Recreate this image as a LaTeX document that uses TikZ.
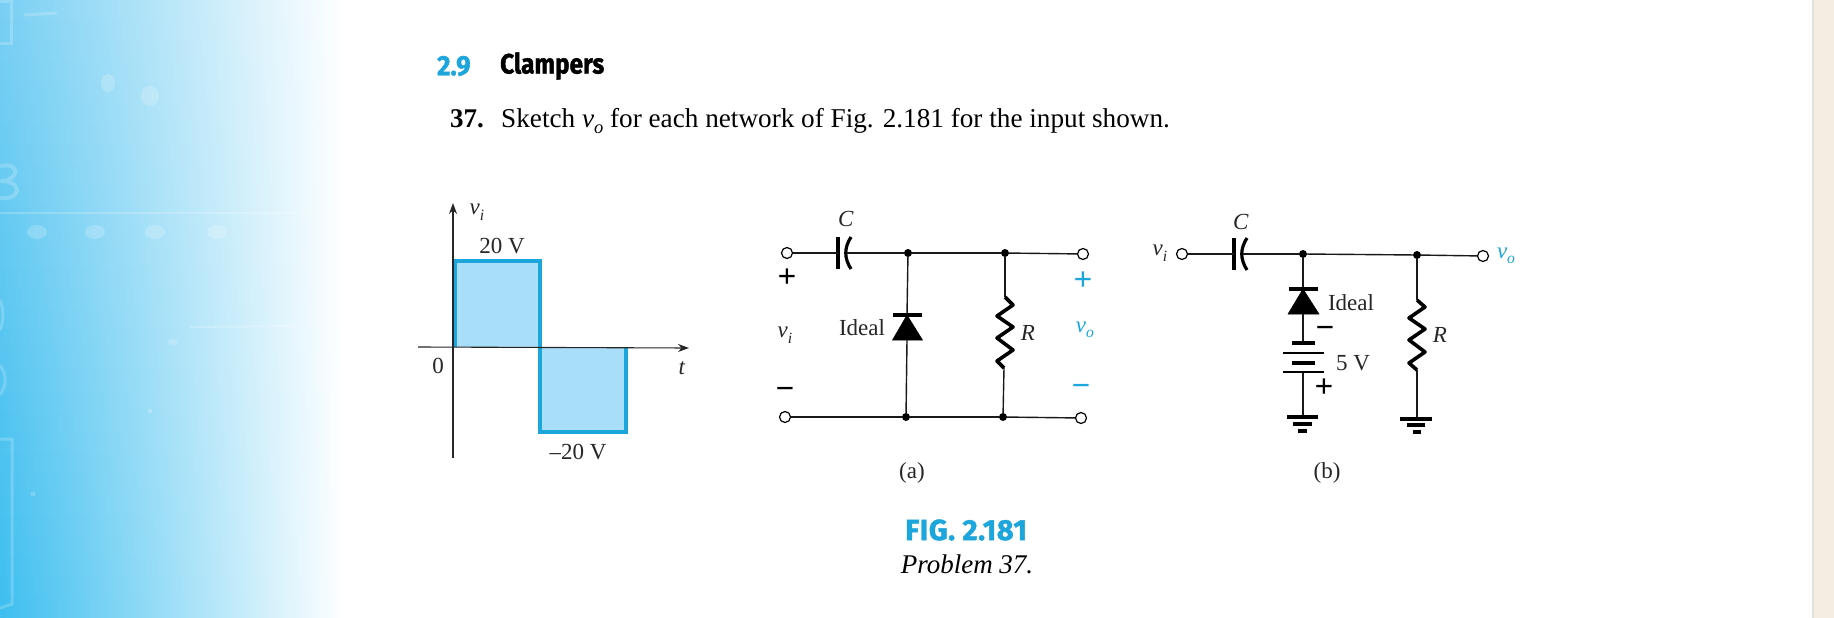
\documentclass[tikz,border=0pt]{standalone}
\usepackage{fontspec}
\setmainfont{Liberation Serif}
\newfontfamily\headfont{Fira Sans}[BoldFeatures={FakeBold=1.6}]
\usetikzlibrary{arrows.meta}
\definecolor{cyanink}{HTML}{1CA6DC}
\definecolor{wavefill}{HTML}{A9DEF9}
\definecolor{paper}{HTML}{F5EDE2}
\definecolor{topbg}{HTML}{78CFF3}
\definecolor{botbg}{HTML}{3CBEEF}
\newcommand{\vsub}[2]{\textit{#1}\raisebox{-.24em}{\scalebox{.68}{\textit{#2}}}}
\tikzset{
  lbl/.style={inner sep=0pt,font=\fontsize{23}{25}\selectfont,text=black!85},
  lblc/.style={lbl,text=cyanink},
  sgn/.style={inner sep=0pt,font=\fontsize{33}{33}\selectfont\bfseries,text=black},
  sgnc/.style={sgn,text=cyanink},
  term/.style={circle,draw=black,fill=white,line width=1.2pt,inner sep=0pt,minimum size=11pt},
  dotj/.style={circle,fill=black,inner sep=0pt,minimum size=8pt},
  wire/.style={line width=1.4pt,black!90},
  thickp/.style={line width=4.5pt,black},
  thinp/.style={line width=1.6pt,black},
  resi/.style={line width=3.6pt,black,line join=round},
  diod/.style={fill=black,draw=black,line width=.5pt},
  axisl/.style={line width=1.1pt,black!85},
  deco/.style={white,opacity=.2},
}
\begin{document}
\begin{tikzpicture}[x=1pt,y=-1pt]
\useasboundingbox (0,0) rectangle (1834,618);
\fill[white] (0,0) rectangle (1834,618);
% left gradient band
\foreach \i in {0,...,30}{
  \pgfmathtruncatemacro{\p}{100-\i*100/30}
  \pgfmathsetmacro{\ya}{\i*20.6}
  \pgfmathsetmacro{\yb}{\i*20.6+21.5}
  \shade[left color=topbg!\p!botbg,right color=white,shading angle=90] (0,\ya) rectangle (345,\yb);
}
% faint background art
\begin{scope}[deco]
\draw[line width=2.5pt] (0,213) -- (330,213);
\draw[line width=3pt] (0,2) -- (11,2) -- (11,44) -- (0,44);
\draw[line width=3pt] (24,15) -- (57,13);
\draw[line width=4pt] (0,166) .. controls (22,162) and (18,180) .. (3,181) .. controls (22,182) and (22,200) .. (0,198);
\foreach \x in {37,95,155,217}{\fill (\x,232) ellipse (10 and 7);}
\draw[line width=3pt] (0,439) -- (12,439) -- (12,604) -- (0,608);
\fill (108,83) ellipse (7 and 9);
\fill (150,96) ellipse (9 and 10);
\draw[line width=2pt] (190,327) -- (300,326);
\fill (173,342) ellipse (5 and 3);
\fill (150,411) circle (2.5);
\fill (33,494) circle (2.5);
\draw[line width=3pt] (0,300) .. controls (4,310) and (4,320) .. (0,330);
\draw[line width=3pt] (0,365) .. controls (7,375) and (7,385) .. (0,395);
\end{scope}
% right paper strip
\fill[paper] (1812,0) rectangle (1834,618);
\fill[black!12] (1812,0) rectangle (1813.5,618);
% heading
\node[anchor=west,inner sep=0pt,text=cyanink,font=\headfont\fontsize{28}{30}\selectfont\bfseries] (secn) at (437,66) {\scalebox{.92}[1]{2.9}};
\node[anchor=west,inner sep=0pt,text=black,font=\headfont\fontsize{28}{30}\selectfont\bfseries] (sect) at (500,66) {\scalebox{.87}[1]{Clampers}};
\node[anchor=base west,inner sep=0pt,font=\fontsize{27}{29}\selectfont\bfseries] (pnum) at (450,127) {37.};
\node[anchor=base west,inner sep=0pt,font=\fontsize{27.2}{29}\selectfont] (ptxt) at (501,127) {Sketch \vsub{v}{o} for each network of Fig. 2.181 for the input shown.};
% waveform
\coordinate (w0) at (455,347);
\coordinate (w1) at (455,261);
\coordinate (w2) at (540,261);
\coordinate (w3) at (540,432);
\coordinate (w4) at (626,432);
\coordinate (w5) at (626,347);
\fill[wavefill] (w0) -- (w1) -- (w2) -- (w3) -- (w4) -- (w5) -- (w2 |- w5) -- cycle;
\draw[cyanink,line width=3.4pt,line join=miter] (w0) -- (w1) -- (w2) -- (w3) -- (w4) -- (w5);
\coordinate (yb) at (453,458);
\coordinate (yt) at (453,203);
\coordinate (xl) at (418,347);
\coordinate (xr) at (689,348);
\draw[axisl,-{Stealth[length=11pt,width=8pt]}] (yb) -- (yt);
\draw[axisl,-{Stealth[length=11pt,width=8pt]}] (xl) -- (xr);
\node[lbl] (lvi) at (477,212) {\vsub{v}{i}};
\node[lbl] (l20) at (502,246) {20 V};
\node[lbl] (l0) at (438,366) {0};
\node[lbl] (lt) at (682,368) {\textit{t}};
\node[lbl] (lm20) at (578,452) {–20 V};
% circuit (a)
\node[term] (at1) at (787,253) {};
\node[term] (at2) at (1083,254) {};
\node[term] (ab1) at (785,417) {};
\node[term] (ab2) at (1081,418) {};
\node[dotj] (aj1) at (908,253) {};
\node[dotj] (aj2) at (1005,253) {};
\node[dotj] (aj3) at (906,417) {};
\node[dotj] (aj4) at (1003,417) {};
\coordinate (ac1) at (838,253);
\coordinate (ac2) at (847,253);
\draw[thickp] (838,237) -- (838,269);
\draw[line width=3.2pt,black] (851,237) .. controls (844,248) and (844,258) .. (851,269);
\draw[wire] (at1) -- (ac1);
\draw[wire] (ac2) -- (aj1);
\draw[wire] (aj1) -- (aj2);
\draw[wire] (aj2) -- (at2);
\draw[wire] (ab1) -- (aj3);
\draw[wire] (aj3) -- (aj4);
\draw[wire] (aj4) -- (ab2);
\coordinate (ada) at (907,315);
\coordinate (adk) at (907,340);
\draw[wire] (aj1) -- (ada);
\draw[wire] (adk) -- (aj3);
\draw[line width=4pt] (893,315) -- (922,315);
\draw[diod] (ada) -- (892.5,340) -- (922.5,340) -- cycle;
\coordinate (ar1) at (1005,297);
\coordinate (ar2) at (1004,368);
\draw[wire] (aj2) -- (ar1);
\draw[wire] (ar2) -- (aj4);
\draw[resi] (ar1) -- (1013,305) -- (997,316) -- (1013,327) -- (997,338) -- (1013,350) -- (997,361) -- (ar2);
\node[lbl] (aC) at (846,219) {\textit{C}};
\node[sgn] (ap) at (787,278) {+};
\node[sgn] (am) at (785,393) {−};
\node[lbl] (avi) at (785,335) {\vsub{v}{i}};
\node[lbl] (aid) at (862,328) {Ideal};
\node[lbl] (aR) at (1028,333) {\textit{R}};
\node[sgnc] (apo) at (1083,281) {+};
\node[lblc] (avo) at (1085,330) {\vsub{v}{o}};
\node[sgnc] (amo) at (1081,390) {−};
\node[lbl] (acapa) at (912,473) {(a)};
% circuit (b)
\node[term] (bt1) at (1182,254) {};
\node[term] (bt2) at (1483,256) {};
\node[dotj] (bj1) at (1303,254) {};
\node[dotj] (bj2) at (1417,255) {};
\coordinate (bc1) at (1234,254);
\coordinate (bc2) at (1243,254);
\draw[thickp] (1234,238) -- (1234,270);
\draw[line width=3.2pt,black] (1247,238) .. controls (1240,249) and (1240,259) .. (1247,270);
\draw[wire] (bt1) -- (bc1);
\draw[wire] (bc2) -- (bj1);
\draw[wire] (bj1) -- (bj2);
\draw[wire] (bj2) -- (bt2);
\coordinate (bda) at (1303,289);
\coordinate (bdk) at (1303,314);
\draw[wire] (bj1) -- (bda);
\draw[line width=4pt] (1289,289) -- (1318,289);
\draw[diod] (bda) -- (1288,314) -- (1319,314) -- cycle;
\coordinate (bb1) at (1303,343);
\coordinate (bb4) at (1303,372);
\coordinate (bg1) at (1303,417);
\draw[wire] (bdk) -- (bb1);
\draw[wire] (bb4) -- (bg1);
\draw[line width=4pt] (1292,343) -- (1315,343);
\draw[thinp] (1283,353) -- (1324,353);
\draw[line width=4pt] (1292,363) -- (1315,363);
\draw[thinp] (1283,372) -- (1324,372);
\draw[line width=3.5pt] (1287,417) -- (1318,417);
\draw[line width=3.5pt] (1293,424) -- (1312,424);
\draw[line width=3.5pt] (1298,431) -- (1307,431);
\coordinate (br1) at (1417,300);
\coordinate (br2) at (1417,370);
\coordinate (bg2) at (1417,419);
\draw[wire] (bj2) -- (br1);
\draw[wire] (br2) -- (bg2);
\draw[resi] (br1) -- (1425,307) -- (1409,318) -- (1425,329) -- (1409,340) -- (1425,352) -- (1409,363) -- (br2);
\draw[line width=3.5pt] (1400,419) -- (1432,419);
\draw[line width=3.5pt] (1407,425) -- (1425,425);
\draw[line width=3.5pt] (1413,432) -- (1421,432);
\node[lbl] (bvi) at (1160,253) {\vsub{v}{i}};
\node[lbl] (bC) at (1241,222) {\textit{C}};
\node[lblc] (bvo) at (1506,256) {\vsub{v}{o}};
\node[lbl] (bid) at (1351,303) {Ideal};
\node[sgn] (bm) at (1325,332) {−};
\node[lbl] (b5) at (1353,363) {5 V};
\node[sgn] (bp) at (1324,388) {+};
\node[lbl] (bR) at (1440,335) {\textit{R}};
\node[lbl] (bcap) at (1327,473) {(b)};
% caption
\node[inner sep=0pt,text=cyanink,font=\headfont\fontsize{29}{31}\selectfont\bfseries] (fig) at (966,530) {\addfontfeatures{LetterSpace=2}FIG. 2.181};
\node[inner sep=0pt,font=\fontsize{27}{29}\selectfont\itshape] (prob) at (967,564) {Problem 37.};
\end{tikzpicture}
\end{document}
